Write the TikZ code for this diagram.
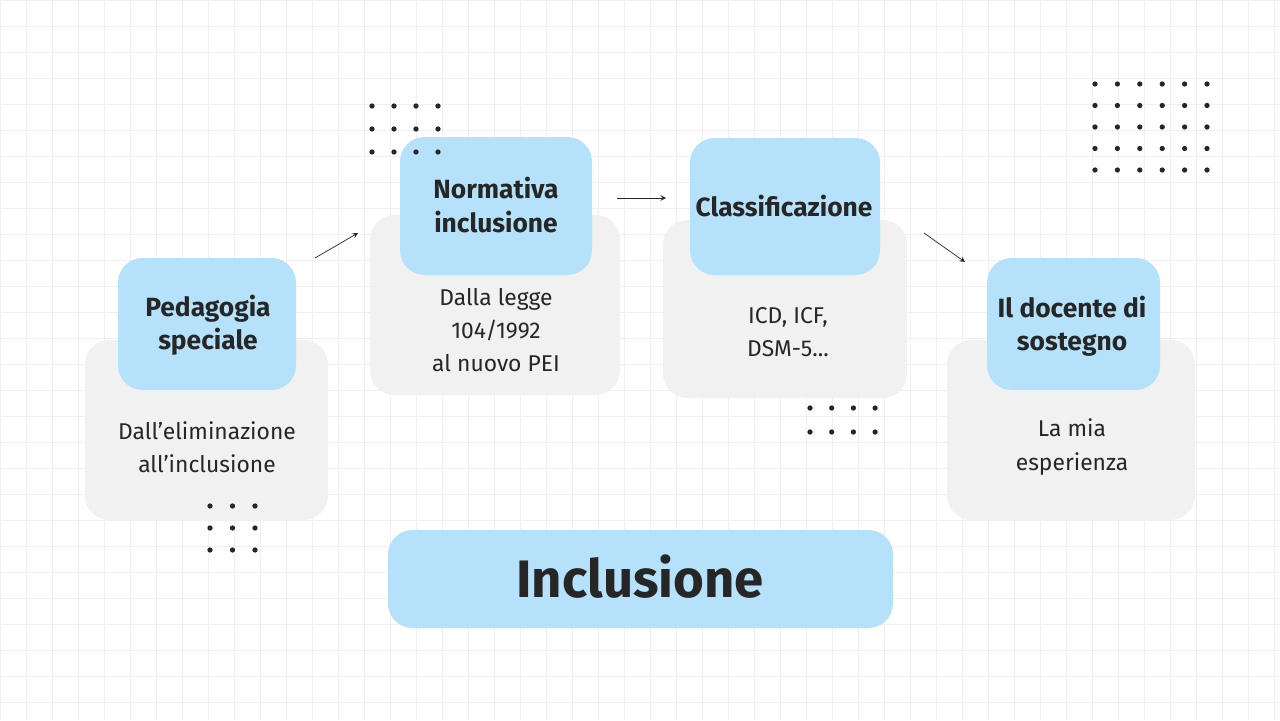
\documentclass[tikz,border=0pt]{standalone}
\usepackage{fontspec}
\setmainfont{Fira Sans}
\usetikzlibrary{positioning}
\definecolor{cardblue}{HTML}{B5E2FA}
\definecolor{cardgray}{HTML}{F1F1F1}
\definecolor{gridline}{HTML}{F0F0F0}
\tikzset{
  back/.style={fill=cardgray,rounded corners=14pt},
  front/.style={fill=cardblue,rounded corners=14pt},
  title/.style={font=\bfseries\fontsize{15}{19}\selectfont,align=center,text=black!85},
  body/.style={font=\fontsize{13}{19}\selectfont,align=center,text=black!85},
  dot/.style={fill=black!85,circle,inner sep=0pt,minimum size=3pt},
  link/.style={->,>=stealth,thin,black!85}
}
\begin{document}
\begin{tikzpicture}[x=0.02cm,y=-0.02cm]
    \useasboundingbox (0,0) rectangle (1280,720);
    \fill[white] (0,0) rectangle (1280,720);
    \draw [gridline,very thin,step=0.52cm] (0,0) grid (1280,720);
    %cards: gray back, blue front
    \fill[back] (85,340) rectangle (328,520);
    \fill[front] (118,258) rectangle (296,390);
    \fill[back] (370,215) rectangle (620,395);
    \fill[front] (400,137) rectangle (592,275);
    \fill[back] (663,220) rectangle (907,398);
    \fill[front] (690,138) rectangle (880,275);
    \fill[back] (947,340) rectangle (1195,520);
    \fill[front] (987,258) rectangle (1160,390);
    \fill[front] (388,530) rectangle (893,628);
    %texts
    \node[title] (ped) at (208,325) {Pedagogia\\speciale};
    \node[body] (pedtxt) at (207,447) {Dall’eliminazione\\all’inclusione};
    \node[title] (norm) at (496,205) {Normativa\\inclusione};
    \node[body] (normtxt) at (496,330) {Dalla legge\\104/1992\\al nuovo PEI};
    \node[title] (class) at (784,206) {Classificazione};
    \node[body] (classtxt) at (788,332) {ICD, ICF,\\DSM-5...};
    \node[title] (doc) at (1072,326) {Il docente di\\sostegno};
    \node[body] (doctxt) at (1072,447) {La mia\\esperienza};
    \node[font=\bfseries\fontsize{30}{36}\selectfont,text=black!85] (incl) at (640,577) {Inclusione};
    %arrows
    \coordinate (a1) at (315,258); \coordinate (b1) at (358,233);
    \coordinate (a2) at (617,198); \coordinate (b2) at (666,198);
    \coordinate (a3) at (924,233); \coordinate (b3) at (965,262);
    \draw[link] (a1) -- (b1);
    \draw[link] (a2) -- (b2);
    \draw[link] (a3) -- (b3);
    %dot grids
    \foreach \i in {0,...,3} \foreach \j in {0,...,2}
        \node[dot] at (372+22*\i,106+23*\j) {};
    \foreach \i in {0,...,5} \foreach \j in {0,...,4}
        \node[dot] at (1095+22.4*\i,84+21.5*\j) {};
    \foreach \i in {0,...,2} \foreach \j in {0,...,2}
        \node[dot] at (210+22.5*\i,506+22*\j) {};
    \foreach \i in {0,...,3} \foreach \j in {0,...,1}
        \node[dot] at (810+21.7*\i,408+24*\j) {};
\end{tikzpicture}
\end{document}
